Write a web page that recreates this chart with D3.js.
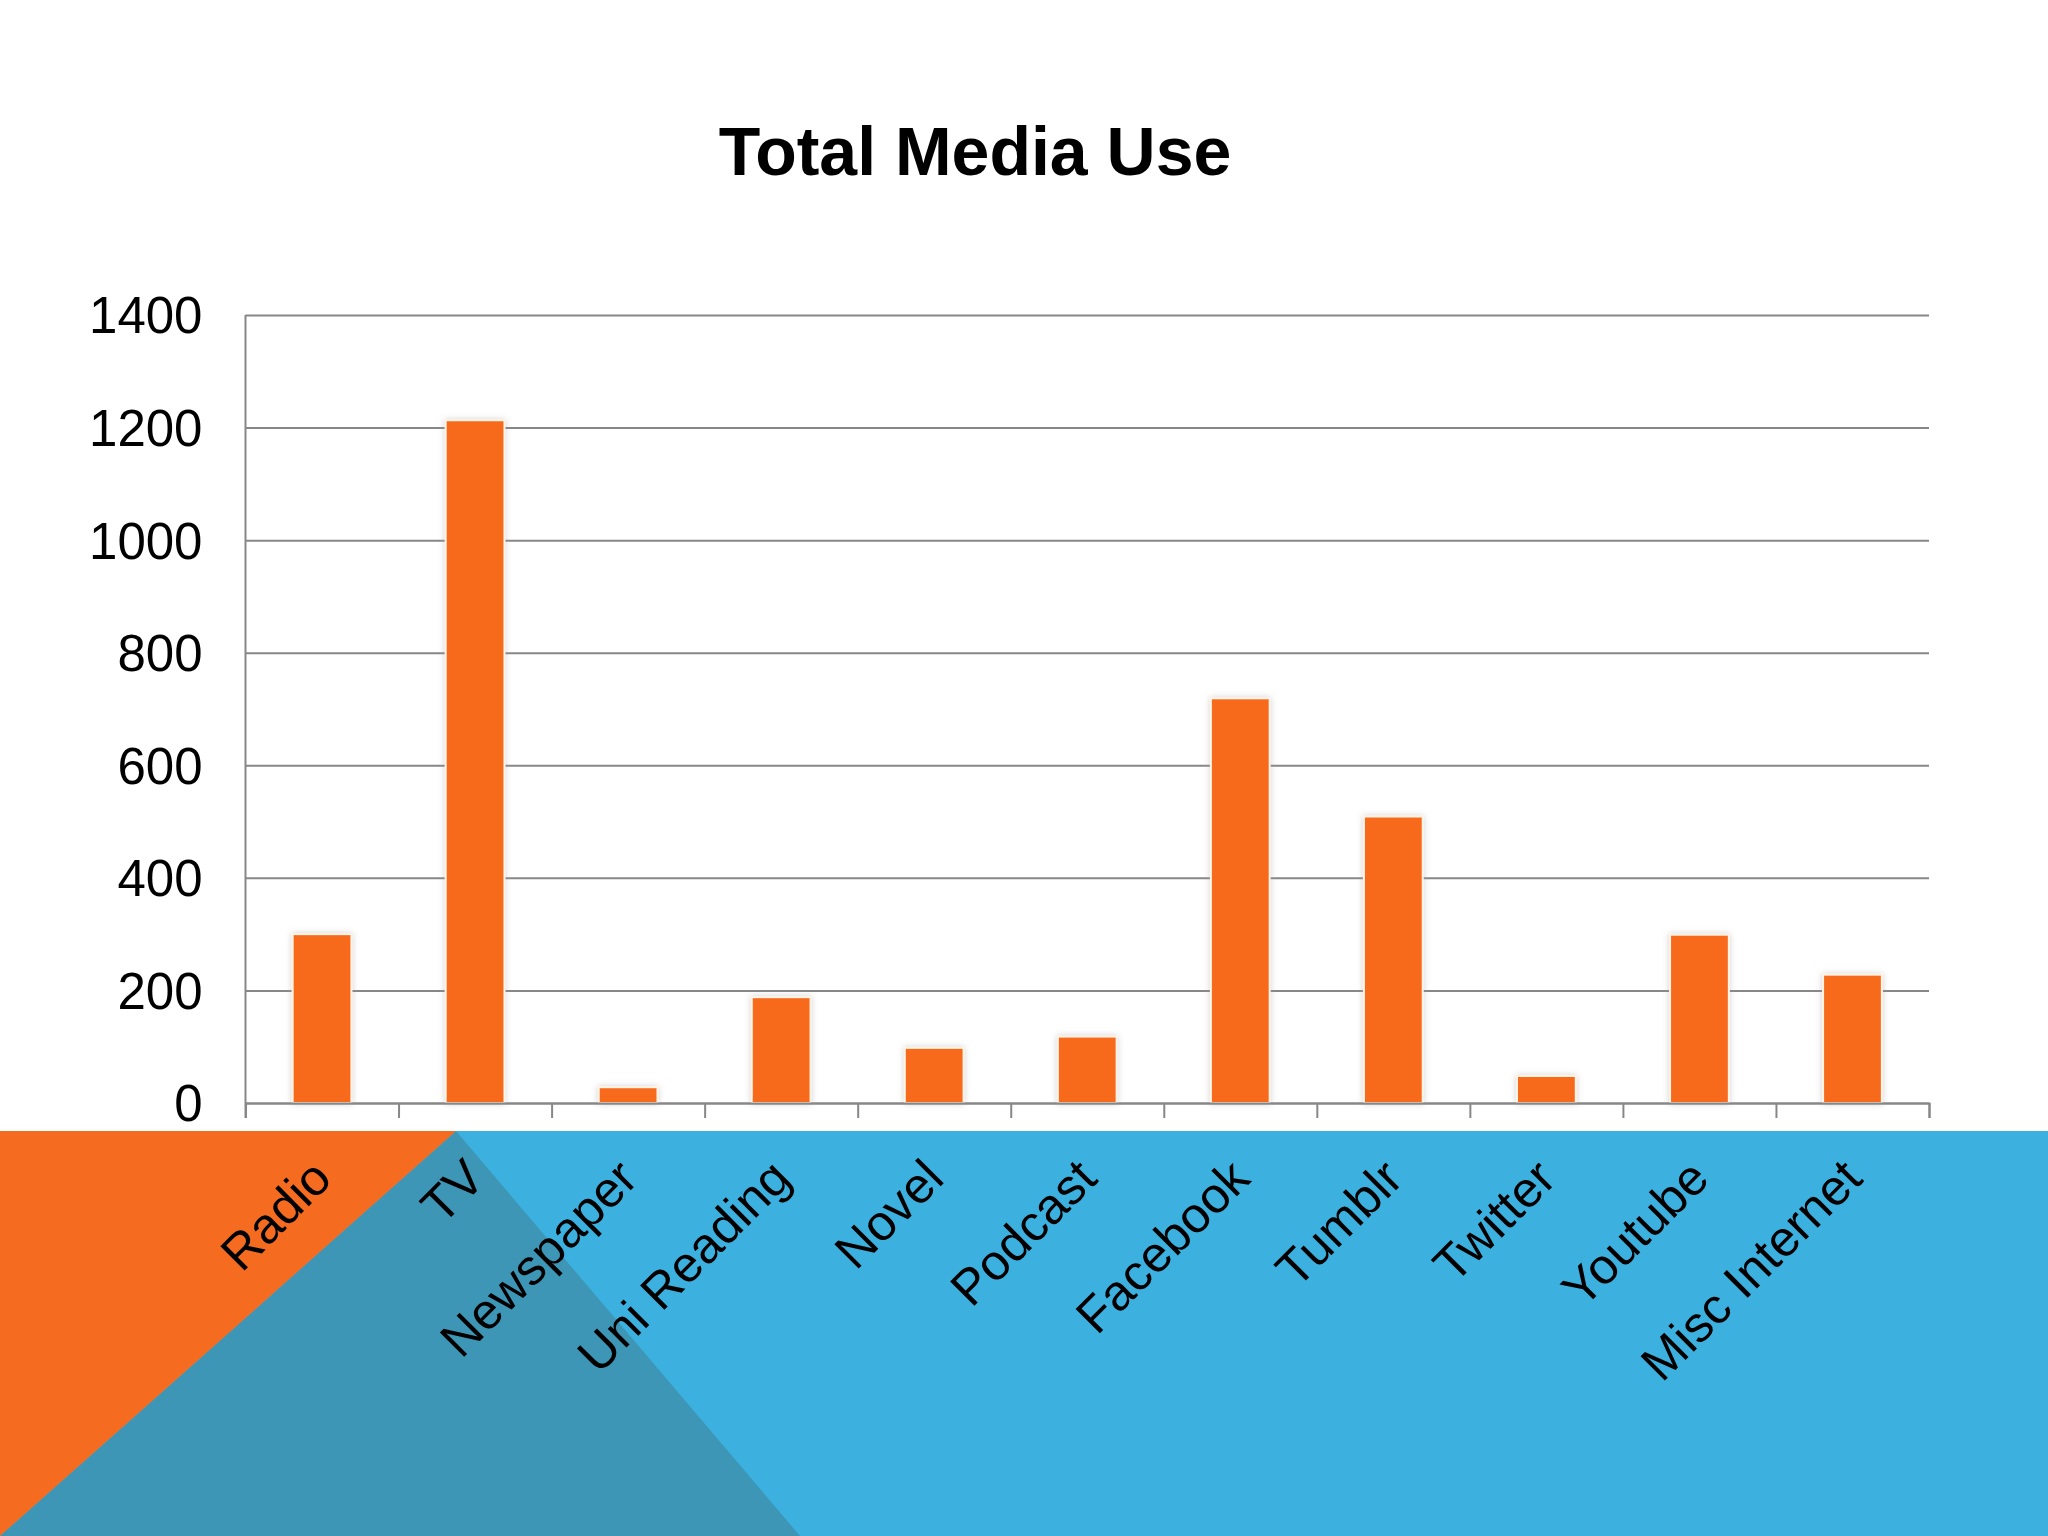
<!DOCTYPE html>
<html>
<head>
<meta charset="utf-8">
<script src="https://cdn.jsdelivr.net/npm/d3@7"></script>
<style>
  body { margin: 0; background: #fff; }
  svg { display: block; font-family: "Liberation Sans", Arial, sans-serif; }
</style>
</head>
<body>
<div id="chart"></div>
<script>
// values
const categories = ["Radio", "TV", "Newspaper", "Uni Reading", "Novel", "Podcast",
  "Facebook", "Tumblr", "Twitter", "Youtube", "Misc Internet"];
const usage = [300, 1213, 28, 188, 98, 118, 719, 509, 48, 299, 228];
const yTicks = [0, 200, 400, 600, 800, 1000, 1200, 1400];
const title = "Total Media Use";

const width = 2048, height = 1536;
const marginLeft = 245.5, right = 1929;
const yTop = 315, yBottom = 1103;
const barColor = "#f76a1e";

const svg = d3.select("#chart").append("svg")
    .attr("width", width)
    .attr("height", height)
    .attr("viewBox", [0, 0, width, height]);

// soft shadow round the bars
const defs = svg.append("defs");
defs.append("filter")
    .attr("id", "shadow")
    .attr("x", "-30%").attr("y", "-10%").attr("width", "160%").attr("height", "120%")
  .append("feDropShadow")
    .attr("dx", 0).attr("dy", 0)
    .attr("stdDeviation", 3)
    .attr("flood-color", "#9a9a9a")
    .attr("flood-opacity", 0.45);

// slide decoration at the bottom
const deco = svg.append("g");
deco.append("rect")
    .attr("x", 0).attr("y", 1131)
    .attr("width", width).attr("height", height - 1131)
    .attr("fill", "#3cb1e0");
deco.append("polygon")
    .attr("points", "456,1131 800,1536 0,1536")
    .attr("fill", "#3d96b6");
deco.append("polygon")
    .attr("points", "0,1131 456,1131 0,1536")
    .attr("fill", "#f56b1f");

// scales
const x = d3.scaleBand(categories, [marginLeft, right])
    .paddingInner(0.616)
    .paddingOuter(0.308);
const xEdge = d3.scaleLinear([0, categories.length], [marginLeft, right]);
const y = d3.scaleLinear([0, 1400], [yBottom, yTop]);

// title
svg.append("text")
    .attr("x", 975)
    .attr("y", 175)
    .attr("text-anchor", "middle")
    .attr("font-size", 68)
    .attr("font-weight", "bold")
    .attr("fill", "#000")
    .text(title);

// y axis + gridlines
svg.append("g")
    .attr("transform", `translate(${marginLeft},0)`)
    .call(d3.axisLeft(y).tickValues(yTicks).tickFormat(d3.format("d")).tickSize(15).tickPadding(28))
    .call(g => g.select(".domain").remove())
    .call(g => g.selectAll(".tick line")
        .attr("stroke", "#878787")
        .attr("stroke-width", 2)
        .attr("x2", right - marginLeft))
    .call(g => g.selectAll(".tick text")
        .attr("font-size", 51)
        .attr("fill", "#000")
        .attr("dy", "0.35em"));

svg.append("line")
    .attr("x1", marginLeft).attr("x2", marginLeft)
    .attr("y1", yTop).attr("y2", yBottom + 15)
    .attr("stroke", "#878787")
    .attr("stroke-width", 2);

// bars
svg.append("g")
    .attr("fill", barColor)
    .attr("stroke", "#fff3e6")
    .attr("stroke-width", 2)
    .attr("filter", "url(#shadow)")
  .selectAll("rect")
  .data(categories)
  .join("rect")
    .attr("x", (d, i) => x(d))
    .attr("y", (d, i) => y(usage[i]))
    .attr("width", x.bandwidth())
    .attr("height", (d, i) => y(0) - y(usage[i]));

// x axis: ticks between categories
svg.append("g")
    .attr("transform", `translate(0,${yBottom})`)
    .call(d3.axisBottom(xEdge).tickValues(d3.range(categories.length + 1)).tickSize(15).tickFormat(""))
    .call(g => g.select(".domain").attr("stroke", "#878787").attr("stroke-width", 2))
    .call(g => g.selectAll(".tick line").attr("stroke", "#878787").attr("stroke-width", 2));

// category labels, turned 45 degrees
svg.append("g")
    .attr("transform", `translate(0,${yBottom})`)
    .call(d3.axisBottom(x).tickSize(0))
    .call(g => g.select(".domain").remove())
    .call(g => g.selectAll(".tick text")
        .attr("font-size", 50)
        .attr("fill", "#000")
        .attr("text-anchor", "end")
        .attr("x", 0)
        .attr("y", 0)
        .attr("dy", 0)
        .attr("transform", "translate(12,78) rotate(-45)"));
</script>
</body>
</html>
